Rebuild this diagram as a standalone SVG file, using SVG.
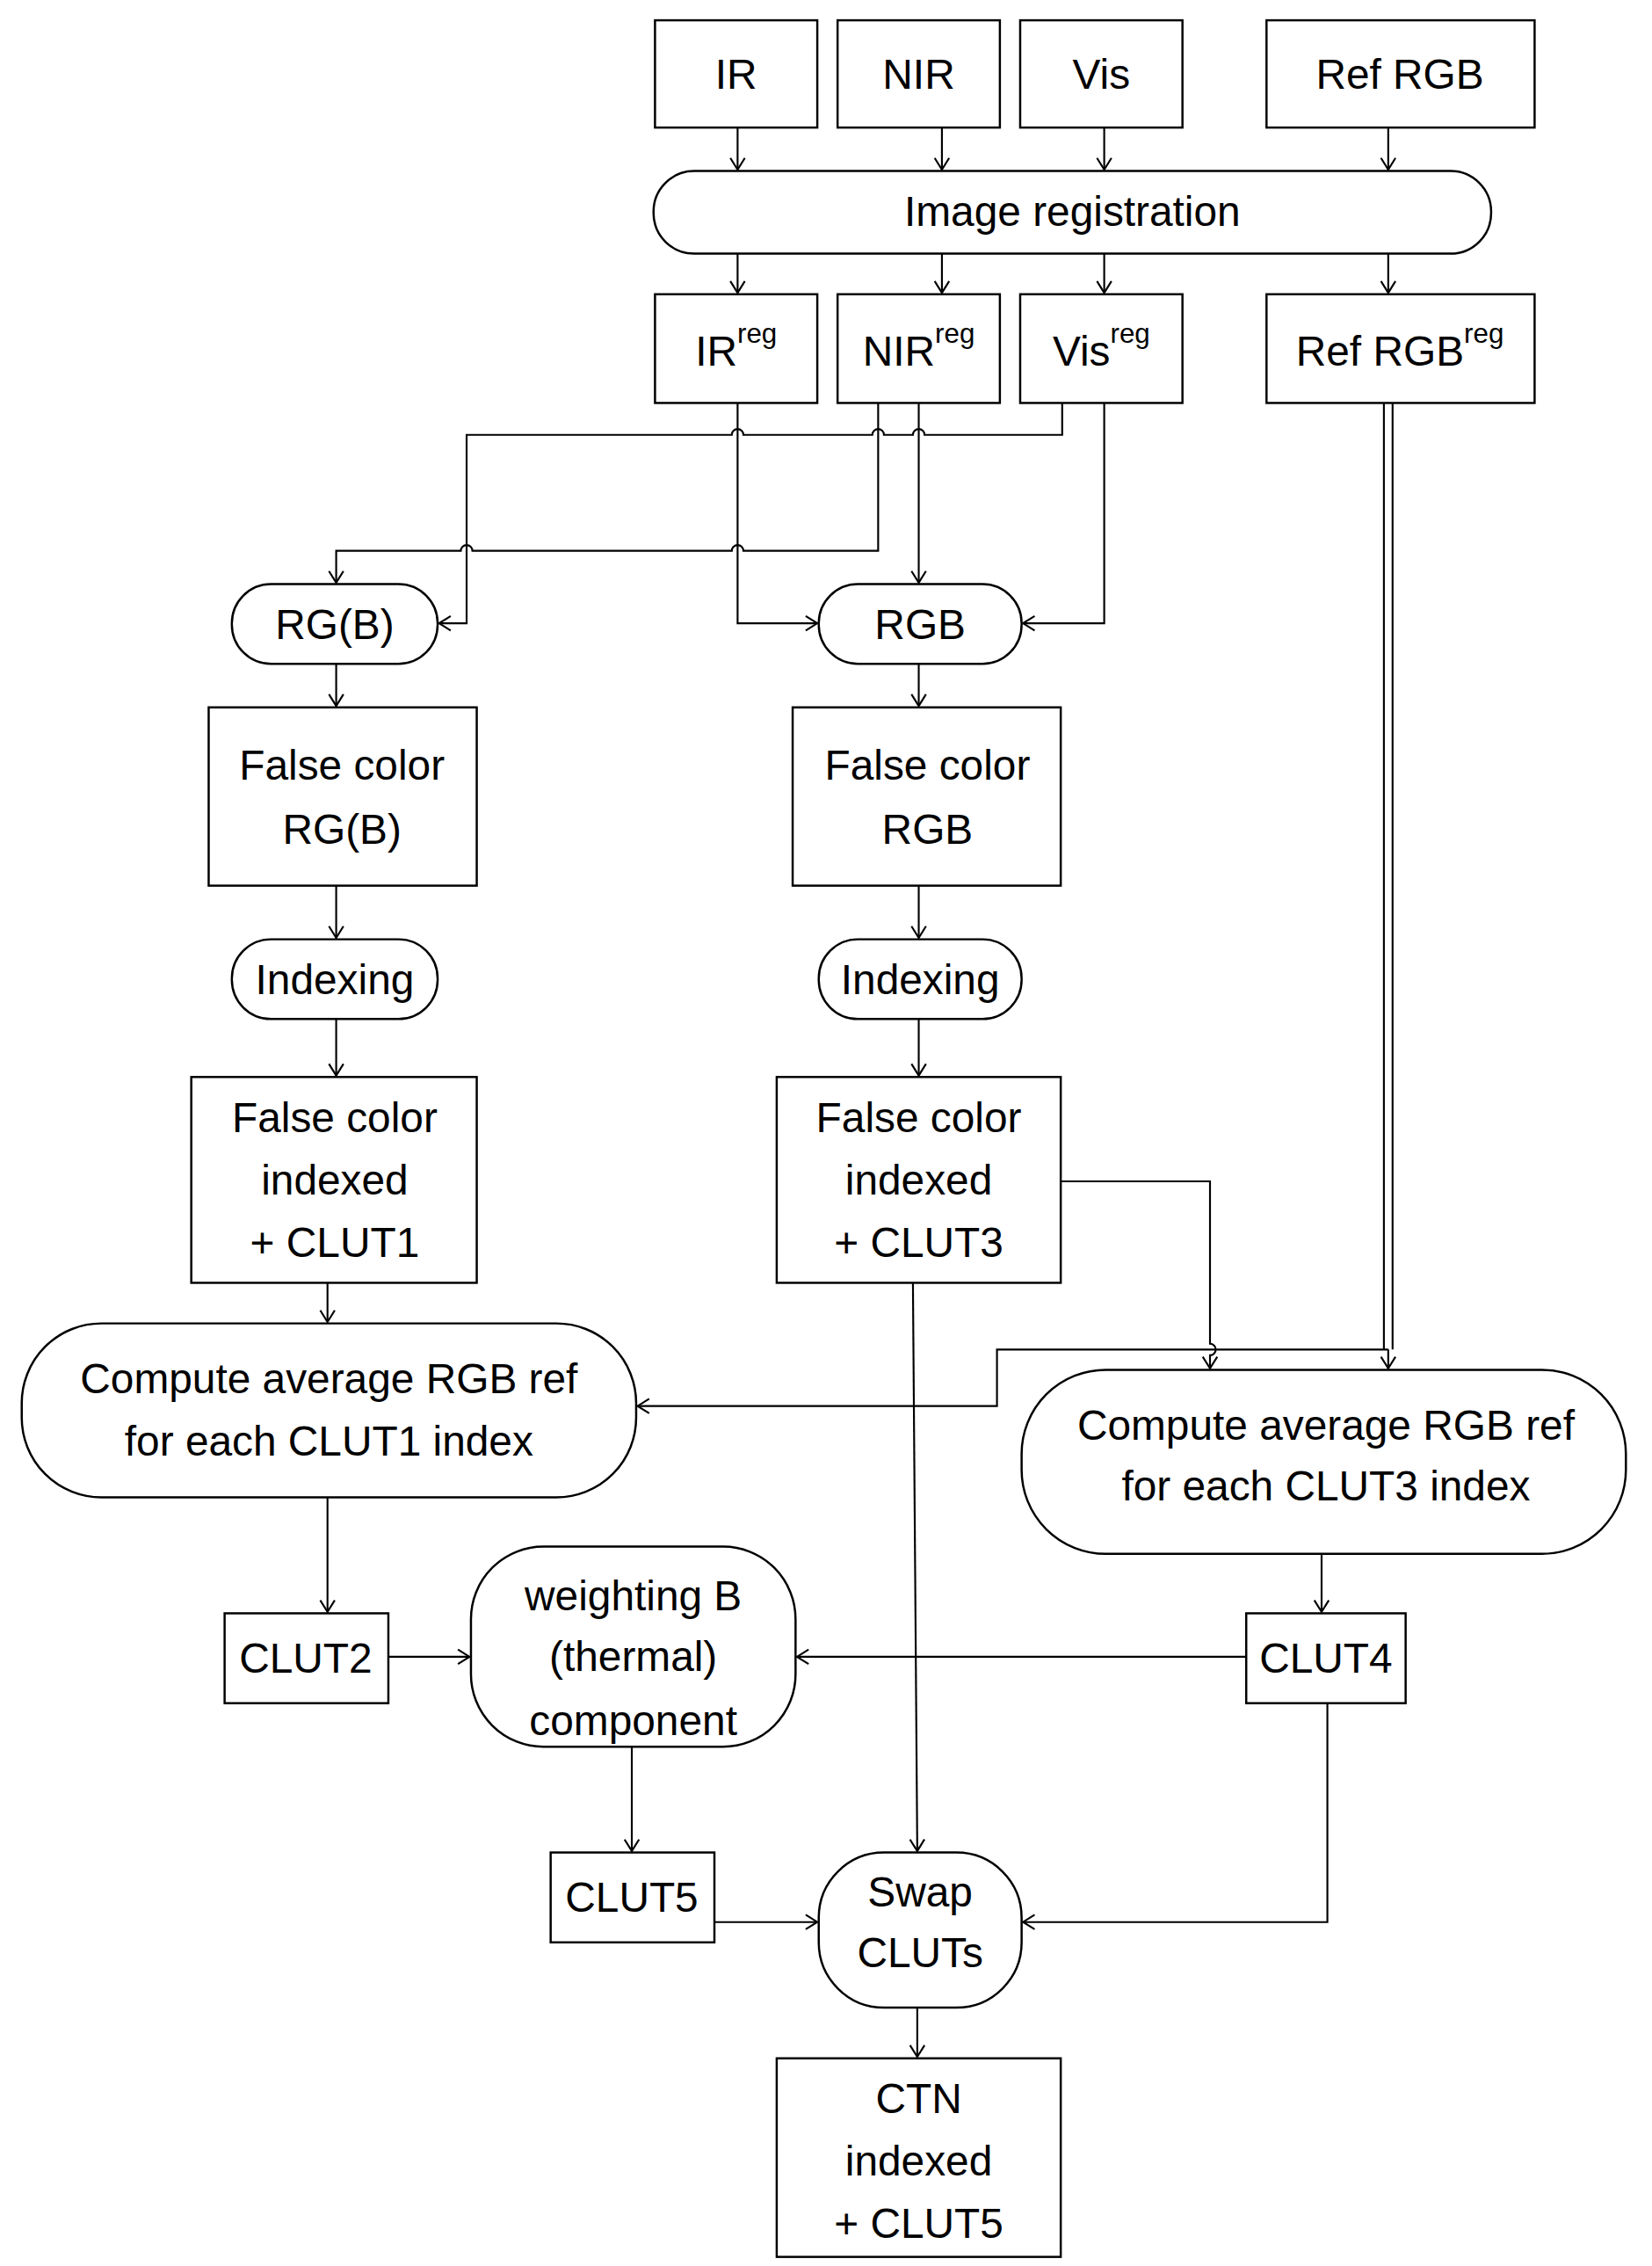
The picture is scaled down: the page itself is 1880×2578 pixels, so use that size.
<svg xmlns="http://www.w3.org/2000/svg" width="1880" height="2578" viewBox="0 0 1880 2578">
<style>
.n{fill:#fff;stroke:#000;stroke-width:1.5}
.t{font-family:"Liberation Sans",Arial,sans-serif;font-size:29px;text-anchor:middle;dominant-baseline:central;fill:#000}
.c{fill:none;stroke:#000;stroke-width:1.3}
.a{marker-end:url(#ar)}
</style>
<defs>
<marker id="ar" markerWidth="12" markerHeight="12" refX="9" refY="6" orient="auto" markerUnits="userSpaceOnUse">
<path d="M1,1 L9,6 L1,11" fill="none" stroke="#000" stroke-width="1.3"/>
</marker>
</defs>
<rect width="1880" height="2578" fill="#fff"/>
<g transform="scale(1.6491)">
<g id="connectors">
<path class="c a" d="M509,88 V117"/>
<path class="c a" d="M650,88 V117"/>
<path class="c a" d="M762,88 V117"/>
<path class="c a" d="M958,88 V117"/>
<path class="c a" d="M509,175 V202"/>
<path class="c a" d="M650,175 V202"/>
<path class="c a" d="M762,175 V202"/>
<path class="c a" d="M958,175 V202"/>
<path class="c a" d="M733,278 V300 H638 a4,4 0 0 0 -8,0 H610 a4,4 0 0 0 -8,0 H513 a4,4 0 0 0 -8,0 H322 V430 H303"/>
<path class="c a" d="M606,278 V380 H513 a4,4 0 0 0 -8,0 H326 a4,4 0 0 0 -8,0 H232 V402"/>
<path class="c a" d="M634,278 V402"/>
<path class="c a" d="M509,278 V430 H564"/>
<path class="c a" d="M762,278 V430 H706"/>
<path class="c a" d="M232,458 V487"/>
<path class="c a" d="M634,458 V487"/>
<path class="c a" d="M232,611 V647"/>
<path class="c a" d="M634,611 V647"/>
<path class="c a" d="M232,703 V742"/>
<path class="c a" d="M634,703 V742"/>
<path class="c a" d="M226,885 V912"/>
<path class="c a" d="M732,815 H835 V927 a4,4 0 0 1 0,8 V944"/>
<path class="c" d="M955,278 V931 M961,278 V931"/>
<path class="c a" d="M958,931 V944"/>
<path class="c a" d="M958,931 H688 V970 H440"/>
<path class="c a" d="M630,885 L633,1277"/>
<path class="c a" d="M226,1033 V1112"/>
<path class="c a" d="M912,1072 V1112"/>
<path class="c a" d="M268,1143 H324"/>
<path class="c a" d="M860,1143 H550"/>
<path class="c a" d="M436,1205 V1277"/>
<path class="c a" d="M493,1326 H564"/>
<path class="c a" d="M916,1175 V1326 H706"/>
<path class="c a" d="M633,1385 V1419"/>
</g>
<g id="ir"><rect class="n" x="452" y="14" width="112" height="74"/><text class="t" x="508" y="51">IR</text></g>
<g id="nir"><rect class="n" x="578" y="14" width="112" height="74"/><text class="t" x="634" y="51">NIR</text></g>
<g id="vis"><rect class="n" x="704" y="14" width="112" height="74"/><text class="t" x="760" y="51">Vis</text></g>
<g id="refrgb"><rect class="n" x="874" y="14" width="185" height="74"/><text class="t" x="966" y="51">Ref RGB</text></g>
<g id="imgreg"><rect class="n" x="451" y="118" width="578" height="57" rx="28"/><text class="t" x="740" y="146">Image registration</text></g>
<g id="irreg"><rect class="n" x="452" y="203" width="112" height="75"/><text class="t" x="508" y="242">IR<tspan font-size="19" dy="-12">reg</tspan></text></g>
<g id="nirreg"><rect class="n" x="578" y="203" width="112" height="75"/><text class="t" x="634" y="242">NIR<tspan font-size="19" dy="-12">reg</tspan></text></g>
<g id="visreg"><rect class="n" x="704" y="203" width="112" height="75"/><text class="t" x="760" y="242">Vis<tspan font-size="19" dy="-12">reg</tspan></text></g>
<g id="refreg"><rect class="n" x="874" y="203" width="185" height="75"/><text class="t" x="966" y="242">Ref RGB<tspan font-size="19" dy="-12">reg</tspan></text></g>
<g id="rgb1"><rect class="n" x="160" y="403" width="142" height="55" rx="27"/><text class="t" x="231" y="431">RG(B)</text></g>
<g id="rgb2"><rect class="n" x="565" y="403" width="140" height="55" rx="27"/><text class="t" x="635" y="431">RGB</text></g>
<g id="fc1"><rect class="n" x="144" y="488" width="185" height="123"/><text class="t" x="236" y="528">False color</text><text class="t" x="236" y="572">RG(B)</text></g>
<g id="fc2"><rect class="n" x="547" y="488" width="185" height="123"/><text class="t" x="640" y="528">False color</text><text class="t" x="640" y="572">RGB</text></g>
<g id="idx1"><rect class="n" x="160" y="648" width="142" height="55" rx="27"/><text class="t" x="231" y="676">Indexing</text></g>
<g id="idx2"><rect class="n" x="565" y="648" width="140" height="55" rx="27"/><text class="t" x="635" y="676">Indexing</text></g>
<g id="fci1"><rect class="n" x="132" y="743" width="197" height="142"/><text class="t" x="231" y="771">False color</text><text class="t" x="231" y="814">indexed</text><text class="t" x="231" y="857">+ CLUT1</text></g>
<g id="fci3"><rect class="n" x="536" y="743" width="196" height="142"/><text class="t" x="634" y="771">False color</text><text class="t" x="634" y="814">indexed</text><text class="t" x="634" y="857">+ CLUT3</text></g>
<g id="comp1"><rect class="n" x="15" y="913" width="424" height="120" rx="55"/><text class="t" x="227" y="951">Compute average RGB ref</text><text class="t" x="227" y="994">for each CLUT1 index</text></g>
<g id="comp3"><rect class="n" x="705" y="945" width="417" height="127" rx="58"/><text class="t" x="915" y="983">Compute average RGB ref</text><text class="t" x="915" y="1025">for each CLUT3 index</text></g>
<g id="clut2"><rect class="n" x="155" y="1113" width="113" height="62"/><text class="t" x="211" y="1144">CLUT2</text></g>
<g id="weight"><rect class="n" x="325" y="1067" width="224" height="138" rx="50"/><text class="t" x="437" y="1101">weighting B</text><text class="t" x="437" y="1143">(thermal)</text><text class="t" x="437" y="1187">component</text></g>
<g id="clut4"><rect class="n" x="860" y="1113" width="110" height="62"/><text class="t" x="915" y="1144">CLUT4</text></g>
<g id="clut5"><rect class="n" x="380" y="1278" width="113" height="62"/><text class="t" x="436" y="1309">CLUT5</text></g>
<g id="swap"><rect class="n" x="565" y="1278" width="140" height="107" rx="45"/><text class="t" x="635" y="1305">Swap</text><text class="t" x="635" y="1347">CLUTs</text></g>
<g id="ctn"><rect class="n" x="536" y="1420" width="196" height="137"/><text class="t" x="634" y="1448">CTN</text><text class="t" x="634" y="1491">indexed</text><text class="t" x="634" y="1534">+ CLUT5</text></g>
</g>
</svg>
